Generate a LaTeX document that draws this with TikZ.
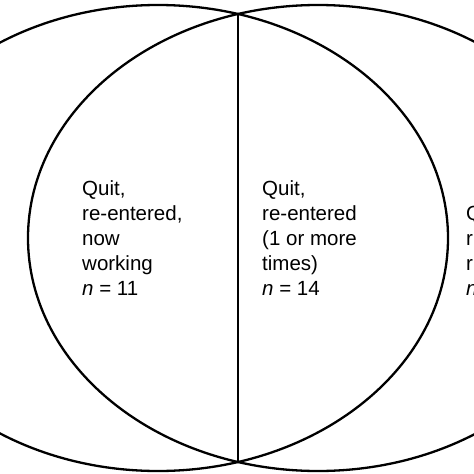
\documentclass[tikz,border=0pt]{standalone}
\usepackage{fontspec}
\setmainfont{Liberation Sans}
\begin{document}
\begin{tikzpicture}[x=1pt,y=-1pt,
  outline/.style={line width=2.3pt,black},
  txt/.style={anchor=base west,inner sep=0pt,font=\fontsize{20.5}{25}\selectfont}]
\useasboundingbox (0,0) rectangle (474,474);
\clip (0,0) rectangle (474,474);
\fill[white] (0,0) rectangle (474,474);
% ellipses
\draw[outline] (158,238) ellipse [x radius=290pt, y radius=233pt];
\draw[outline] (318,238) ellipse [x radius=290pt, y radius=233pt];
\coordinate (top) at (238,14.04);
\coordinate (bot) at (238,461.96);
\draw[outline] (top) -- (bot);
% left text
\node[txt] (l1) at (82,195) {Quit,};
\node[txt] (l2) at (82,220) {re-entered,};
\node[txt] (l3) at (82,245) {now};
\node[txt] (l4) at (82,270) {working};
\node[txt] (l5) at (82,295) {\textit{n} = 11};
% middle text
\node[txt] (m1) at (262,195) {Quit,};
\node[txt] (m2) at (262,220) {re-entered};
\node[txt] (m3) at (262,245) {(1 or more};
\node[txt] (m4) at (262,270) {times)};
\node[txt] (m5) at (262,295) {\textit{n} = 14};
% right text (cut by the edge, as in the reference)
\node[txt] (r1) at (466,220) {Q};
\node[txt] (r2) at (466,245) {r};
\node[txt] (r3) at (466,270) {r};
\node[txt] (r4) at (466,295) {\textit{n}};
\end{tikzpicture}
\end{document}
